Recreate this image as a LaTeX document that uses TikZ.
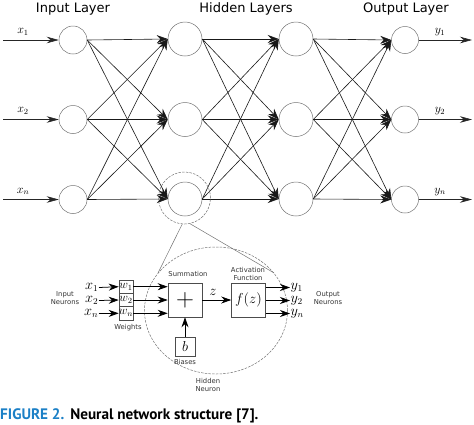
\documentclass[tikz,border=0pt]{standalone}
\usepackage{fontspec}
\setmainfont{DejaVu Sans}
\newfontfamily\capfont{PT Sans}
\usetikzlibrary{arrows.meta,shapes.geometric}
\definecolor{capblue}{RGB}{28,128,198}
\begin{document}
\begin{tikzpicture}[x=1pt,y=-1pt,
  neuron/.style={circle,draw=black!55,line width=0.5pt,inner sep=0pt},
  link/.style={draw=black!90,line width=0.6pt,-{Stealth[length=11pt,width=8pt]}},
  ioarrow/.style={draw=black!85,line width=0.6pt,-{Stealth[length=12pt,width=6.5pt]}},
  title/.style={font=\fontsize{13}{13}\selectfont,anchor=base,inner sep=0pt},
  toplab/.style={font=\fontsize{12}{12}\selectfont,anchor=base,inner sep=0pt},
  small/.style={font=\fontsize{6.8}{8.2}\selectfont,align=center,inner sep=0pt,text=black!80},
  bx/.style={draw=black!70,line width=0.6pt,inner sep=0pt},
  iarrow/.style={draw=black,line width=0.75pt,-{Stealth[length=10pt,width=7pt]}},
  dashc/.style={draw=black!55,dashed,dash pattern=on 2.5pt off 1.2pt,line width=0.5pt,inner sep=0pt},
  zoomline/.style={draw=black!55,line width=0.5pt}
]
\useasboundingbox (0,0) rectangle (474,424);

% titles
\node[title] (t1) at (73,12.7) {Input Layer};
\node[title] (t2) at (246,12.7) {Hidden Layers};
\node[title] (t3) at (406,12.7) {Output Layer};

% neurons
\node[neuron,minimum size=28pt] (i1) at (73,40) {};
\node[neuron,minimum size=28pt] (i2) at (73,119.5) {};
\node[neuron,minimum size=28pt] (i3) at (73,199.5) {};
\node[neuron,minimum size=34pt] (h1) at (185,39) {};
\node[neuron,minimum size=34pt] (h2) at (185,119.5) {};
\node[neuron,minimum size=34pt] (h3) at (185,199) {};
\node[neuron,minimum size=34pt] (g1) at (296,39) {};
\node[neuron,minimum size=34pt] (g2) at (296,119.5) {};
\node[neuron,minimum size=34pt] (g3) at (296,199) {};
\node[neuron,minimum size=27pt] (o1) at (405,40) {};
\node[neuron,minimum size=27pt] (o2) at (405,119.5) {};
\node[neuron,minimum size=27pt] (o3) at (405,199.5) {};

% connections
\foreach \s in {1,2,3}{
  \foreach \t in {1,2,3}{
    \draw[link] (i\s.east) -- (h\t.west);
    \draw[link] (h\s.east) -- (g\t.west);
    \draw[link] (g\s.east) -- (o\t.west);
  }
}

% inputs and outputs
\coordinate (in1) at (3,40);
\coordinate (in2) at (3,119.5);
\coordinate (in3) at (3,199.5);
\coordinate (out1) at (472,40);
\coordinate (out2) at (472,119.5);
\coordinate (out3) at (472,199.5);
\draw[ioarrow] (in1) -- (i1.west);
\draw[ioarrow] (in2) -- (i2.west);
\draw[ioarrow] (in3) -- (i3.west);
\draw[ioarrow] (o1.east) -- (out1);
\draw[ioarrow] (o2.east) -- (out2);
\draw[ioarrow] (o3.east) -- (out3);
\node[toplab] (lx1) at (23,33.5) {$x_1$};
\node[toplab] (lx2) at (23,112.5) {$x_2$};
\node[toplab] (lx3) at (23,193) {$x_n$};
\node[toplab] (ly1) at (440,33.5) {$y_1$};
\node[toplab] (ly2) at (440,112.5) {$y_2$};
\node[toplab] (ly3) at (440,193) {$y_n$};

% zoom circles
\node[dashc,circle,minimum size=52pt] (zc) at (184.5,198) {};
\node[dashc,ellipse,minimum width=143pt,minimum height=127pt] (bc) at (216,310.5) {};
\draw[zoomline] (zc.265) -- (bc.147);
\draw[zoomline] (zc.282) -- (bc.33);

% inner neuron diagram
\node[small] (inneur) at (65,298) {Input\\Neurons};
\node[font=\fontsize{13.5}{13.5}\selectfont,inner sep=0.5pt,anchor=east] (ix1) at (99,287.5) {$x_1$};
\node[font=\fontsize{13.5}{13.5}\selectfont,inner sep=0.5pt,anchor=east] (ix2) at (99,300.5) {$x_2$};
\node[font=\fontsize{13.5}{13.5}\selectfont,inner sep=0.5pt,anchor=east] (ix3) at (99,313.5) {$x_n$};
\node[bx,minimum width=14pt,minimum height=13.3pt,font=\fontsize{11.5}{11.5}\selectfont] (w1) at (126,286.7) {$w_1$};
\node[bx,minimum width=14pt,minimum height=13.3pt,font=\fontsize{11.5}{11.5}\selectfont] (w2) at (126,300) {$w_2$};
\node[bx,minimum width=14pt,minimum height=13.3pt,font=\fontsize{11.5}{11.5}\selectfont] (w3) at (126,313.3) {$w_n$};
\node[small] (wlab) at (128,328) {Weights};
\draw[iarrow] (ix1.east) -- (w1.west);
\draw[iarrow] (ix2.east) -- (w2.west);
\draw[iarrow] (ix3.east) -- (w3.west);

\node[bx,minimum size=34pt,font=\fontsize{30}{30}\selectfont] (sum) at (185,300) {$+$};
\node[small] (sumlab) at (188,274) {Summation};
\draw[iarrow] (w1.east) -- (sum.west |- w1.east);
\draw[iarrow] (w2.east) -- (sum.west |- w2.east);
\draw[iarrow] (w3.east) -- (sum.west |- w3.east);

\node[bx,minimum width=20pt,minimum height=19pt,font=\fontsize{13.5}{13.5}\selectfont] (bb) at (185,346.5) {$b$};
\node[small] (blab) at (185,362) {Biases};
\draw[iarrow] (bb.north) -- (sum.south);

\node[bx,minimum size=34pt,font=\fontsize{15}{15}\selectfont] (fz) at (248.5,300) {$f(z)$};
\node[small] (flab) at (248,274) {Activation\\Function};
\draw[iarrow] (sum.east) -- (fz.west);
\node[font=\fontsize{14}{14}\selectfont,inner sep=0pt] (zlab) at (213,292) {$z$};

\node[font=\fontsize{13.5}{13.5}\selectfont,inner sep=0.5pt,anchor=west] (oy1) at (290,287.5) {$y_1$};
\node[font=\fontsize{13.5}{13.5}\selectfont,inner sep=0.5pt,anchor=west] (oy2) at (290,300.5) {$y_2$};
\node[font=\fontsize{13.5}{13.5}\selectfont,inner sep=0.5pt,anchor=west] (oy3) at (290,313.5) {$y_n$};
\draw[iarrow] (fz.east |- oy1.west) -- (oy1.west);
\draw[iarrow] (fz.east |- oy2.west) -- (oy2.west);
\draw[iarrow] (fz.east |- oy3.west) -- (oy3.west);
\node[small] (onlab) at (328,298) {Output\\Neurons};

\node[small] (hnlab) at (208,385) {Hidden\\Neuron};

% caption
\node[anchor=base west,inner sep=0pt,font=\capfont\bfseries\fontsize{15.2}{15.2}\selectfont] (cap) at (0,419) {\textcolor{capblue}{FIGURE 2.}\hspace{6pt}Neural network structure [7].};
\end{tikzpicture}
\end{document}
